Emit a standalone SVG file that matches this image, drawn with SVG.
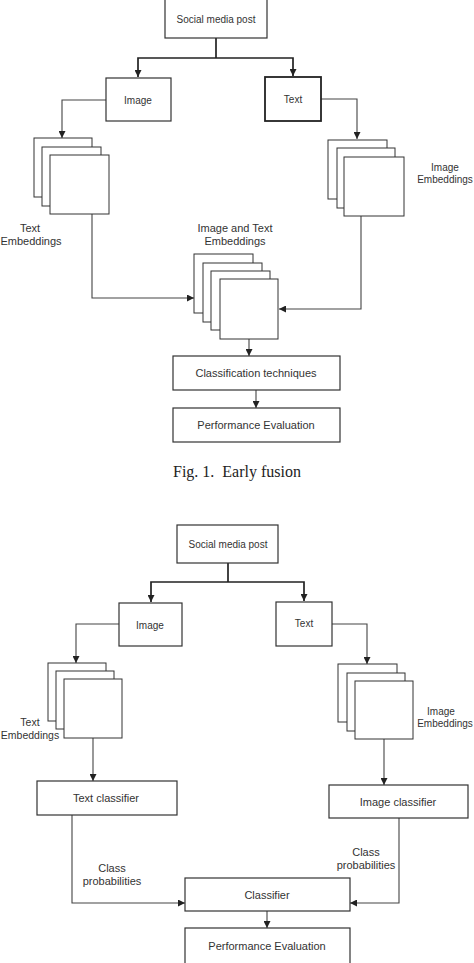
<svg xmlns="http://www.w3.org/2000/svg" width="474" height="963" viewBox="0 0 474 963">
<defs>
<marker id="ah" viewBox="0 0 8 8" refX="8" refY="4" markerWidth="7" markerHeight="7" markerUnits="userSpaceOnUse" orient="auto">
<path d="M0,0 L8,4 L0,8 z" fill="#222"/>
</marker>
<style>
.box{fill:#fff;stroke:#333;stroke-width:1.2}
.thick{stroke-width:1.8;stroke:#222}
.pg{fill:#fff;stroke:#333;stroke-width:1}
.c{fill:none;stroke:#444;stroke-width:1.1}
.cb{fill:none;stroke:#222;stroke-width:1.7}
.t{font-family:"Liberation Sans",Arial,sans-serif;font-size:11px;fill:#333;text-anchor:middle}
.s{font-size:10px}
.cap{font-family:"Liberation Serif","Times New Roman",serif;font-size:16px;fill:#222}
</style>
</defs>
<rect width="474" height="963" fill="#fff"/>

<!-- ===== Fig 1: Early fusion ===== -->
<g id="connectors1">
<path class="cb" d="M216,38 V58"/>
<path class="cb" d="M216,58 H138 V77" marker-end="url(#ah)"/>
<path class="cb" d="M216,58 H293 V76" marker-end="url(#ah)"/>
<path class="c" d="M106,100 H62 V138" marker-end="url(#ah)"/>
<path class="c" d="M321,99 H357 V139" marker-end="url(#ah)"/>
<path class="c" d="M92,214 V298 H194" marker-end="url(#ah)"/>
<path class="c" d="M361,216 V309 H279" marker-end="url(#ah)"/>
<path class="c" d="M249,339 V356" marker-end="url(#ah)"/>
<path class="c" d="M256,390 V408" marker-end="url(#ah)"/>
</g>

<g id="post1">
<rect class="box" x="165" y="-2" width="102" height="40"/>
<text class="t s" x="216" y="23">Social media post</text>
</g>
<g id="image1">
<rect class="box" x="106" y="78" width="65" height="43"/>
<text class="t s" x="138" y="104">Image</text>
</g>
<g id="text1">
<rect class="box thick" x="265" y="77" width="56" height="44"/>
<text class="t s" x="293" y="103">Text</text>
</g>
<g id="textemb1">
<rect class="pg" x="34" y="138" width="58" height="59"/>
<rect class="pg" x="42" y="147" width="59" height="59"/>
<rect class="pg" x="50" y="155" width="59" height="59"/>
<text class="t" x="30" y="232">Text</text>
<text class="t" x="31" y="245">Embeddings</text>
</g>
<g id="imageemb1">
<rect class="pg" x="328" y="140" width="59" height="59"/>
<rect class="pg" x="337" y="148" width="58" height="60"/>
<rect class="pg" x="344" y="157" width="60" height="59"/>
<text class="t s" x="445" y="171">Image</text>
<text class="t s" x="445" y="183">Embeddings</text>
</g>
<g id="fusedemb1">
<text class="t" x="235" y="232">Image and Text</text>
<text class="t" x="235" y="245">Embeddings</text>
<rect class="pg" x="194" y="254" width="59" height="59"/>
<rect class="pg" x="203" y="263" width="59" height="59"/>
<rect class="pg" x="211" y="271" width="59" height="59"/>
<rect class="pg" x="220" y="279" width="58" height="60"/>
</g>
<g id="classtech1">
<rect class="box" x="173" y="356" width="167" height="34"/>
<text class="t" x="256" y="377">Classification techniques</text>
</g>
<g id="perf1">
<rect class="box" x="173" y="408" width="167" height="34"/>
<text class="t" x="256" y="429">Performance Evaluation</text>
</g>
<text class="cap" x="173" y="477" xml:space="preserve">Fig. 1.  Early fusion</text>

<!-- ===== Fig 2: Late fusion ===== -->
<g id="connectors2">
<path class="cb" d="M228,563 V582"/>
<path class="cb" d="M228,582 H151 V602" marker-end="url(#ah)"/>
<path class="cb" d="M228,582 H304 V601" marker-end="url(#ah)"/>
<path class="c" d="M119,624 H76 V663" marker-end="url(#ah)"/>
<path class="c" d="M332,624 H367 V664" marker-end="url(#ah)"/>
<path class="c" d="M93,738 V781" marker-end="url(#ah)"/>
<path class="c" d="M384,739 V785" marker-end="url(#ah)"/>
<path class="c" d="M72,815 V903 H185" marker-end="url(#ah)"/>
<path class="c" d="M399,818 V903 H350" marker-end="url(#ah)"/>
<path class="c" d="M267,911 V928" marker-end="url(#ah)"/>
</g>

<g id="post2">
<rect class="box" x="177" y="525" width="101" height="38"/>
<text class="t s" x="228" y="548">Social media post</text>
</g>
<g id="image2">
<rect class="box" x="119" y="603" width="63" height="43"/>
<text class="t s" x="150" y="629">Image</text>
</g>
<g id="text2">
<rect class="box" x="276" y="602" width="56" height="44"/>
<text class="t s" x="304" y="627">Text</text>
</g>
<g id="textemb2">
<rect class="pg" x="48" y="663" width="58" height="58"/>
<rect class="pg" x="56" y="671" width="58" height="58"/>
<rect class="pg" x="64" y="679" width="58" height="59"/>
<text class="t" x="30" y="726" style="font-size:10.5px">Text</text>
<text class="t" x="30" y="739" style="font-size:10.5px">Embeddings</text>
</g>
<g id="imageemb2">
<rect class="pg" x="338" y="664" width="59" height="58"/>
<rect class="pg" x="347" y="673" width="58" height="58"/>
<rect class="pg" x="355" y="681" width="58" height="58"/>
<text class="t s" x="441" y="715">Image</text>
<text class="t s" x="445" y="727">Embeddings</text>
</g>
<g id="textclf2">
<rect class="box" x="37" y="781" width="140" height="34"/>
<text class="t" x="106" y="802">Text classifier</text>
</g>
<g id="imageclf2">
<rect class="box" x="329" y="785" width="139" height="33"/>
<text class="t" x="398" y="806">Image classifier</text>
</g>
<text class="t" x="112" y="872">Class</text>
<text class="t" x="112" y="885">probabilities</text>
<text class="t" x="366" y="856">Class</text>
<text class="t" x="366" y="869">probabilities</text>
<g id="classifier2">
<rect class="box" x="185" y="878" width="165" height="33"/>
<text class="t" x="267" y="899">Classifier</text>
</g>
<g id="perf2">
<rect class="box" x="185" y="928" width="165" height="40"/>
<text class="t" x="267" y="950">Performance Evaluation</text>
</g>
</svg>
